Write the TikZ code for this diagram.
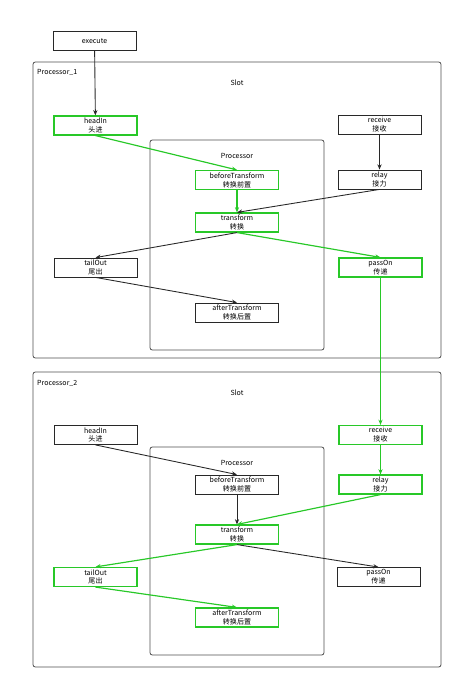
\documentclass[tikz,border=0pt]{standalone}
\usepackage{fontspec}
\setmainfont{Noto Sans CJK SC}
\usetikzlibrary{arrows.meta}
\definecolor{flowgreen}{RGB}{40,200,40}
\definecolor{linegray}{RGB}{40,40,40}
\definecolor{framegray}{RGB}{80,80,80}
\begin{document}
\begin{tikzpicture}[>={Stealth[length=4.5pt, width=3.6pt]}, x=0.03cm, y=-0.03cm,
unit/.style={draw=linegray, fill=white, line width=0.7pt, minimum width=2.49cm, minimum height=0.57cm, inner sep=0, align=center, font=\fontsize{6}{7.6}\selectfont},
active/.style={unit, draw=flowgreen, line width=1pt},
frame/.style={draw=framegray, rounded corners=2pt, line width=0.7pt},
caption/.style={inner sep=0, font=\fontsize{6}{7.6}\selectfont},
flow/.style={->, draw=linegray, line width=0.75pt},
greenflow/.style={->, draw=flowgreen, line width=1pt}]
\useasboundingbox (0,0) rectangle (474,700);
% frames
\draw[frame] (33,62) rectangle (441,358);
\node[caption, anchor=west] at (37,72) {Processor\_1};
\node[caption] at (237,83) {Slot};
\draw[frame] (150,140) rectangle (324,350);
\node[caption] at (237,156) {Processor};
\draw[frame] (33,372) rectangle (441,667);
\node[caption, anchor=west] at (37,383) {Processor\_2};
\node[caption] at (237,393) {Slot};
\draw[frame] (150,447) rectangle (324,655);
\node[caption] at (237,463) {Processor};
%%%%%%%%%% Processor_1 %%%%%%%%%%%
\node[unit] (exec) at (94.5,41) {execute};
\node[active] (head1) at (95.5,125.5) {headIn\\头进};
\node[active] (before1) at (237,180) {beforeTransform\\转换前置};
\node[active] (trans1) at (237,222.5) {transform\\转换};
\node[unit] (recv1) at (379.5,125) {receive\\接收};
\node[unit] (relay1) at (379.5,179.5) {relay\\接力};
\node[unit] (tail1) at (95.5,267.5) {tailOut\\尾出};
\node[active] (pass1) at (380.5,267.5) {passOn\\传递};
\node[unit] (after1) at (237,312.5) {afterTransform\\转换后置};
\draw[flow] (exec) -- (head1);
\draw[greenflow] (head1.south) -- (before1.north);
\draw[greenflow] (before1) -- (trans1);
\draw[flow] (recv1) -- (relay1);
\draw[flow] (relay1.south) -- (trans1.north);
\draw[flow] (trans1.south) -- (tail1.north);
\draw[greenflow] (trans1.south) -- (pass1.north);
\draw[flow] (tail1.south) -- (after1.north);
%%%%%%%%%% Processor_2 %%%%%%%%%%%
\node[unit] (head2) at (95.5,435) {headIn\\头进};
\node[active] (recv2) at (380.5,435) {receive\\接收};
\node[unit] (before2) at (237,484.5) {beforeTransform\\转换前置};
\node[active] (relay2) at (380.5,484.5) {relay\\接力};
\node[active] (trans2) at (237,534.5) {transform\\转换};
\node[active] (tail2) at (95.5,577) {tailOut\\尾出};
\node[unit] (pass2) at (378.5,577) {passOn\\传递};
\node[active] (after2) at (237,617.5) {afterTransform\\转换后置};
\draw[greenflow] (pass1) -- (recv2);
\draw[flow] (head2.south) -- (before2.north);
\draw[greenflow] (recv2) -- (relay2);
\draw[flow] (before2) -- (trans2);
\draw[greenflow] (relay2.south) -- (trans2.north);
\draw[greenflow] (trans2.south) -- (tail2.north);
\draw[flow] (trans2.south) -- (pass2.north);
\draw[greenflow] (tail2.south) -- (after2.north);
\end{tikzpicture}
\end{document}
